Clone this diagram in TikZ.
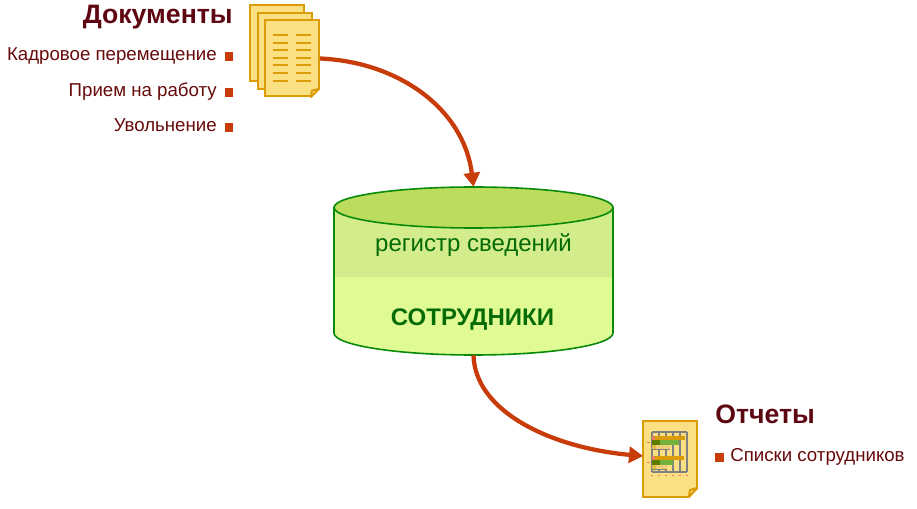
\documentclass[tikz,border=0pt]{standalone}
\usepackage{fontspec}
\setmainfont{Liberation Sans}
\usepackage{tikz}
\usetikzlibrary{arrows.meta, calc}
\definecolor{heading}{HTML}{5E0612}
\definecolor{body}{HTML}{660A0A}
\definecolor{flowc}{HTML}{C83C0A}
\definecolor{pagef}{HTML}{FAE083}
\definecolor{pagel}{HTML}{DB9C08}
\definecolor{cyltop}{HTML}{BCDC5E}
\definecolor{cylmid}{HTML}{D3EC8C}
\definecolor{cyllow}{HTML}{E0FB94}
\definecolor{cyll}{HTML}{0A8A0A}
\definecolor{cyltext}{HTML}{056B05}
\definecolor{barg}{HTML}{72B23C}
\definecolor{baro}{HTML}{5F7A00}
\definecolor{barr}{HTML}{E88060}
\definecolor{bary}{HTML}{E0BC40}
\definecolor{barl}{HTML}{F0CE78}
\tikzset{
  head/.style={text=heading, font=\fontsize{20}{24}\selectfont\bfseries, inner sep=0pt},
  item/.style={text=body, font=\fontsize{14}{17}\selectfont, inner sep=0pt},
  mark box/.style={fill=flowc, minimum size=6.6pt, inner sep=0pt},
  sheet/.style={draw=pagel, fill=pagef, line width=1.5pt, minimum width=40.5pt, minimum height=57pt, inner sep=0pt},
  flow/.style={draw=flowc, line width=3.2pt, -{Triangle[length=10.5pt,width=12pt]}},
  rule/.style={draw=pagel, line width=1.4pt},
  grid line/.style={draw=gray, line width=1pt}
}
\begin{document}
\begin{tikzpicture}[x=0.75pt, y=-0.75pt]
    \useasboundingbox (0,0) rectangle (917,509);

    % cylinder
    \fill[cyllow] (334,277) -- (334,333) arc[start angle=180, end angle=0, x radius=139.5, y radius=22] -- (613,277) -- cycle;
    \fill[cylmid] (334,207) rectangle (613,277);
    \draw[cyll, line width=1.2pt] (334,207) -- (334,333) arc[start angle=180, end angle=0, x radius=139.5, y radius=22] -- (613,207);
    \draw[cyll, line width=1.2pt, fill=cyltop] (473.5,207.5) ellipse[x radius=139.5, y radius=20.5];
    \node[minimum width=209.25pt, minimum height=126pt, inner sep=0pt] (reg) at (473.5,271) {};
    \node[text=cyltext, font=\fontsize{18}{22}\selectfont, anchor=base, inner sep=0pt] (regtitle) at (473.5,252) {регистр сведений};
    \node[text=cyltext, font=\fontsize{18}{22}\selectfont\bfseries, anchor=base, inner sep=0pt] (regname) at (472.5,326) {СОТРУДНИКИ};

    % documents
    \node[sheet] (page1) at (277,43) {};
    \node[sheet] (page2) at (284.5,51) {};
    \node[sheet] (page3) at (292,58.5) {};
    \fill[white] (320,89) -- (320,98) -- (311,98) -- cycle;
    \draw[pagel, line width=1.5pt, line join=round] (311,97) -- (319,89) -- (312,90.5) -- cycle;
    \foreach \y in {35,43,50,58,65,73,81} {
        \draw[rule] (273,\y) -- (288,\y);
        \draw[rule] (296,\y) -- (311,\y);
    }
    \node[head, anchor=base east] (doctitle) at (233,24) {Документы};
    \node[item, anchor=base east] (doc1) at (217,61) {Кадровое перемещение};
    \node[item, anchor=base east] (doc2) at (217,97) {Прием на работу};
    \node[item, anchor=base east] (doc3) at (217,132) {Увольнение};
    \node[mark box] (mark1) at (229,56.5) {};
    \node[mark box] (mark2) at (229,92.5) {};
    \node[mark box] (mark3) at (229,127.5) {};

    % report
    \node[sheet] (report) at (670,459) {};
    \fill[white] (698,489) -- (698,498) -- (689,498) -- cycle;
    \draw[pagel, line width=1.5pt, line join=round] (689,497) -- (697,488) -- (690,490) -- cycle;
    \foreach \x in {652,659,666,673,680,687} {
        \draw[grid line] (\x,432) -- (\x,472);
    }
    \draw[grid line] (652,432) -- (687,432);
    \draw[grid line] (652,472) -- (687,472);
    \draw[grid line] (652,449) -- (670,449);
    \draw[grid line] (652,469) -- (667,469);
    \fill[pagel] (652,436) rectangle (685,440);
    \fill[pagel] (652,456) rectangle (684,460);
    \fill[barr] (652,436) rectangle (655,440);
    \fill[barr] (652,456) rectangle (655,460);
    \fill[barg] (660,440) rectangle (679,445);
    \fill[barg] (660,460) rectangle (673,465);
    \fill[baro] (652,440) rectangle (660,445);
    \fill[baro] (652,460) rectangle (660,465);
    \fill[barl] (652,445) rectangle (670,448.5);
    \fill[barl] (652,465) rectangle (667,468.5);
    \fill[bary] (652,445) rectangle (656,448.5);
    \fill[bary] (652,465) rectangle (656,468.5);
    \foreach \x in {651,658,665,672,679,686} {
        \fill[barr] (\x,474.5) rectangle (\x+1.5,476);
    }
    \fill[barr] (647,441.5) rectangle (650,443);
    \fill[barr] (647,461.5) rectangle (650,463);
    \node[head, anchor=base west] (reptitle) at (715,423) {Отчеты};
    \node[mark box] (mark4) at (719.5,457.5) {};
    \node[item, anchor=base west] (rep1) at (730,461) {Списки сотрудников};

    \coordinate (repin) at (643,456);
    \draw[flow] (page3.east) .. controls (400,62) and (464,110) .. (reg.north);
    \draw[flow] (reg.south) .. controls (475,412) and (552,448) .. (repin);
\end{tikzpicture}
\end{document}
